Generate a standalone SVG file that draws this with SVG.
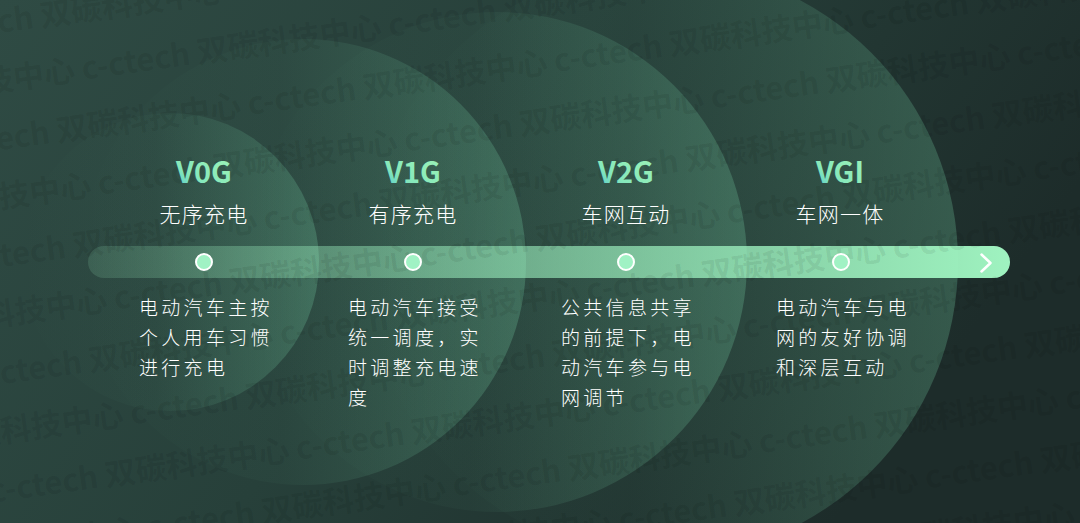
<svg xmlns="http://www.w3.org/2000/svg" width="1080" height="523" viewBox="0 0 1080 523">
  <defs>
    <linearGradient id="bg" x1="0" y1="0" x2="1" y2="0.35">
      <stop offset="0" stop-color="#2f4b44"/>
      <stop offset="0.5" stop-color="#27403a"/>
      <stop offset="1" stop-color="#1d2c2a"/>
    </linearGradient>
    <linearGradient id="arc" x1="0" y1="0" x2="1" y2="0">
      <stop offset="0" stop-color="#6ec29a" stop-opacity="0"/>
      <stop offset="0.45" stop-color="#6ec29a" stop-opacity="0.04"/>
      <stop offset="1" stop-color="#6ec29a" stop-opacity="0.3"/>
    </linearGradient>
    <linearGradient id="bar" x1="88" y1="0" x2="1010" y2="0" gradientUnits="userSpaceOnUse">
      <stop offset="0" stop-color="#9df2c0" stop-opacity="0.14"/>
      <stop offset="0.35" stop-color="#9df2c0" stop-opacity="0.5"/>
      <stop offset="1" stop-color="#9ff3c0" stop-opacity="1"/>
    </linearGradient>
    <linearGradient id="ttl" x1="0" y1="1" x2="0.7" y2="0.2">
      <stop offset="0" stop-color="#55c6cb"/>
      <stop offset="0.45" stop-color="#86e8bb"/>
      <stop offset="1" stop-color="#96f0b8"/>
    </linearGradient>
    <style>
      .wm { font-family: "Noto Sans CJK SC", "Noto Sans", sans-serif; font-weight: 700; font-size: 31px; fill: #000000; fill-opacity: 0.075; }
      .ttl { font-family: "Noto Sans CJK SC", "Noto Sans", sans-serif; font-weight: 700; font-size: 29px; fill: url(#ttl); text-anchor: middle; }
      .sub { font-family: "Noto Sans CJK SC", sans-serif; font-weight: 300; font-size: 21px; letter-spacing: 1.3px; fill: #ffffff; text-anchor: middle; }
      .desc { font-family: "Noto Sans CJK SC", sans-serif; font-weight: 300; font-size: 19px; letter-spacing: 3.3px; fill: #ffffff; }
      .dot { fill: #a0f2c4; stroke: #ffffff; stroke-width: 2; }
      .arc { fill: url(#arc); }
    </style>
  </defs>

  <rect x="0" y="0" width="1080" height="523" fill="url(#bg)"/>

  <g id="arcs">
    <circle class="arc" cx="662" cy="262" r="296"/>
    <circle class="arc" cx="497" cy="262" r="250"/>
    <circle class="arc" cx="303" cy="262" r="223"/>
    <circle class="arc" cx="170" cy="262" r="149"/>
  </g>

  <g id="connectors">
    <rect x="88" y="246" width="922" height="32" rx="16" ry="16" fill="url(#bar)"/>
    <polyline points="981.5,254.5 990.5,263 981.5,271.5" fill="none" stroke="#ffffff" stroke-width="2.5" stroke-linecap="round" stroke-linejoin="round"/>
  </g>

  <g id="watermark" transform="rotate(-8 540 262)">
    <text class="wm" x="-230" y="-40">双碳科技中心 c-ctech 双碳科技中心 c-ctech 双碳科技中心 c-ctech 双碳科技中心 c-ctech 双碳科技中心 c-ctech</text>
    <text class="wm" x="-80" y="18">双碳科技中心 c-ctech 双碳科技中心 c-ctech 双碳科技中心 c-ctech 双碳科技中心 c-ctech 双碳科技中心 c-ctech</text>
    <text class="wm" x="-230" y="76">双碳科技中心 c-ctech 双碳科技中心 c-ctech 双碳科技中心 c-ctech 双碳科技中心 c-ctech 双碳科技中心 c-ctech</text>
    <text class="wm" x="-80" y="134">双碳科技中心 c-ctech 双碳科技中心 c-ctech 双碳科技中心 c-ctech 双碳科技中心 c-ctech 双碳科技中心 c-ctech</text>
    <text class="wm" x="-230" y="192">双碳科技中心 c-ctech 双碳科技中心 c-ctech 双碳科技中心 c-ctech 双碳科技中心 c-ctech 双碳科技中心 c-ctech</text>
    <text class="wm" x="-80" y="250">双碳科技中心 c-ctech 双碳科技中心 c-ctech 双碳科技中心 c-ctech 双碳科技中心 c-ctech 双碳科技中心 c-ctech</text>
    <text class="wm" x="-230" y="308">双碳科技中心 c-ctech 双碳科技中心 c-ctech 双碳科技中心 c-ctech 双碳科技中心 c-ctech 双碳科技中心 c-ctech</text>
    <text class="wm" x="-80" y="366">双碳科技中心 c-ctech 双碳科技中心 c-ctech 双碳科技中心 c-ctech 双碳科技中心 c-ctech 双碳科技中心 c-ctech</text>
    <text class="wm" x="-230" y="424">双碳科技中心 c-ctech 双碳科技中心 c-ctech 双碳科技中心 c-ctech 双碳科技中心 c-ctech 双碳科技中心 c-ctech</text>
    <text class="wm" x="-80" y="482">双碳科技中心 c-ctech 双碳科技中心 c-ctech 双碳科技中心 c-ctech 双碳科技中心 c-ctech 双碳科技中心 c-ctech</text>
    <text class="wm" x="-230" y="540">双碳科技中心 c-ctech 双碳科技中心 c-ctech 双碳科技中心 c-ctech 双碳科技中心 c-ctech 双碳科技中心 c-ctech</text>
    <text class="wm" x="-80" y="598">双碳科技中心 c-ctech 双碳科技中心 c-ctech 双碳科技中心 c-ctech 双碳科技中心 c-ctech 双碳科技中心 c-ctech</text>
  </g>

  <g id="node-v0g">
    <text class="ttl" x="204" y="183">V0G</text>
    <text class="sub" x="204" y="222">无序充电</text>
    <circle class="dot" cx="204" cy="262" r="8"/>
    <text class="desc" x="139" y="315">电动汽车主按</text>
    <text class="desc" x="139" y="345">个人用车习惯</text>
    <text class="desc" x="139" y="375">进行充电</text>
  </g>

  <g id="node-v1g">
    <text class="ttl" x="413" y="183">V1G</text>
    <text class="sub" x="413" y="222">有序充电</text>
    <circle class="dot" cx="413" cy="262" r="8"/>
    <text class="desc" x="348" y="315">电动汽车接受</text>
    <text class="desc" x="348" y="345">统一调度，实</text>
    <text class="desc" x="348" y="375">时调整充电速</text>
    <text class="desc" x="348" y="405">度</text>
  </g>

  <g id="node-v2g">
    <text class="ttl" x="626" y="183">V2G</text>
    <text class="sub" x="626" y="222">车网互动</text>
    <circle class="dot" cx="626" cy="262" r="8"/>
    <text class="desc" x="561" y="315">公共信息共享</text>
    <text class="desc" x="561" y="345">的前提下，电</text>
    <text class="desc" x="561" y="375">动汽车参与电</text>
    <text class="desc" x="561" y="405">网调节</text>
  </g>

  <g id="node-vgi">
    <text class="ttl" x="840" y="183">VGI</text>
    <text class="sub" x="840" y="222">车网一体</text>
    <circle class="dot" cx="841" cy="262" r="8"/>
    <text class="desc" x="776" y="315">电动汽车与电</text>
    <text class="desc" x="776" y="345">网的友好协调</text>
    <text class="desc" x="776" y="375">和深层互动</text>
  </g>
</svg>
